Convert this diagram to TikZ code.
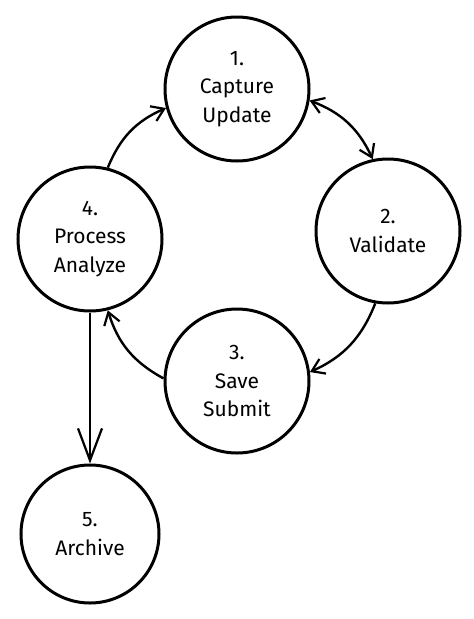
\documentclass[tikz,border=0pt]{standalone}
\usepackage{fontspec}
\setmainfont{Fira Sans}
\usetikzlibrary{arrows.meta}
\begin{document}
\begin{tikzpicture}[x=1pt,y=-1pt,
  stage/.style={circle, draw, line width=3pt, minimum size=144pt, inner sep=0pt, align=center,
    font=\fontsize{21}{28.5}\selectfont},
  conn/.style={line width=2.4pt, -{Straight Barb[length=12pt,width=16pt,line width=2.2pt]}},
  bothconn/.style={line width=2.4pt, {Straight Barb[length=12pt,width=16pt,line width=2.2pt]}-{Straight Barb[length=12pt,width=16pt,line width=2.2pt]}},
  longconn/.style={line width=2.4pt, -{Straight Barb[length=32pt,width=24pt,line width=2.2pt]}}]
\useasboundingbox (0,0) rectangle (474,619);
\fill[white] (0,0) rectangle (474,619);
\node[stage] (c1) at (237,89) {1.\\Capture\\Update};
\node[stage] (c2) at (388,231) {2.\\Validate};
\node[stage] (c3) at (237,381) {3.\\Save\\Submit};
\node[stage] (c4) at (90,239) {4.\\Process\\Analyze};
\node[stage, minimum size=138pt] (c5) at (90,534) {5.\\Archive};
\draw[conn] (c4.76) to[bend left=22] (c1.195);
\draw[bothconn] (c1.-9) to[bend left=22] (c2.102);
\draw[conn] (c2.260) to[bend left=22] (c3.7);
\draw[conn] (c3.178) to[bend left=22] (c4.-76);
\draw[longconn] (c4.south) -- (c5.north);
\end{tikzpicture}
\end{document}
